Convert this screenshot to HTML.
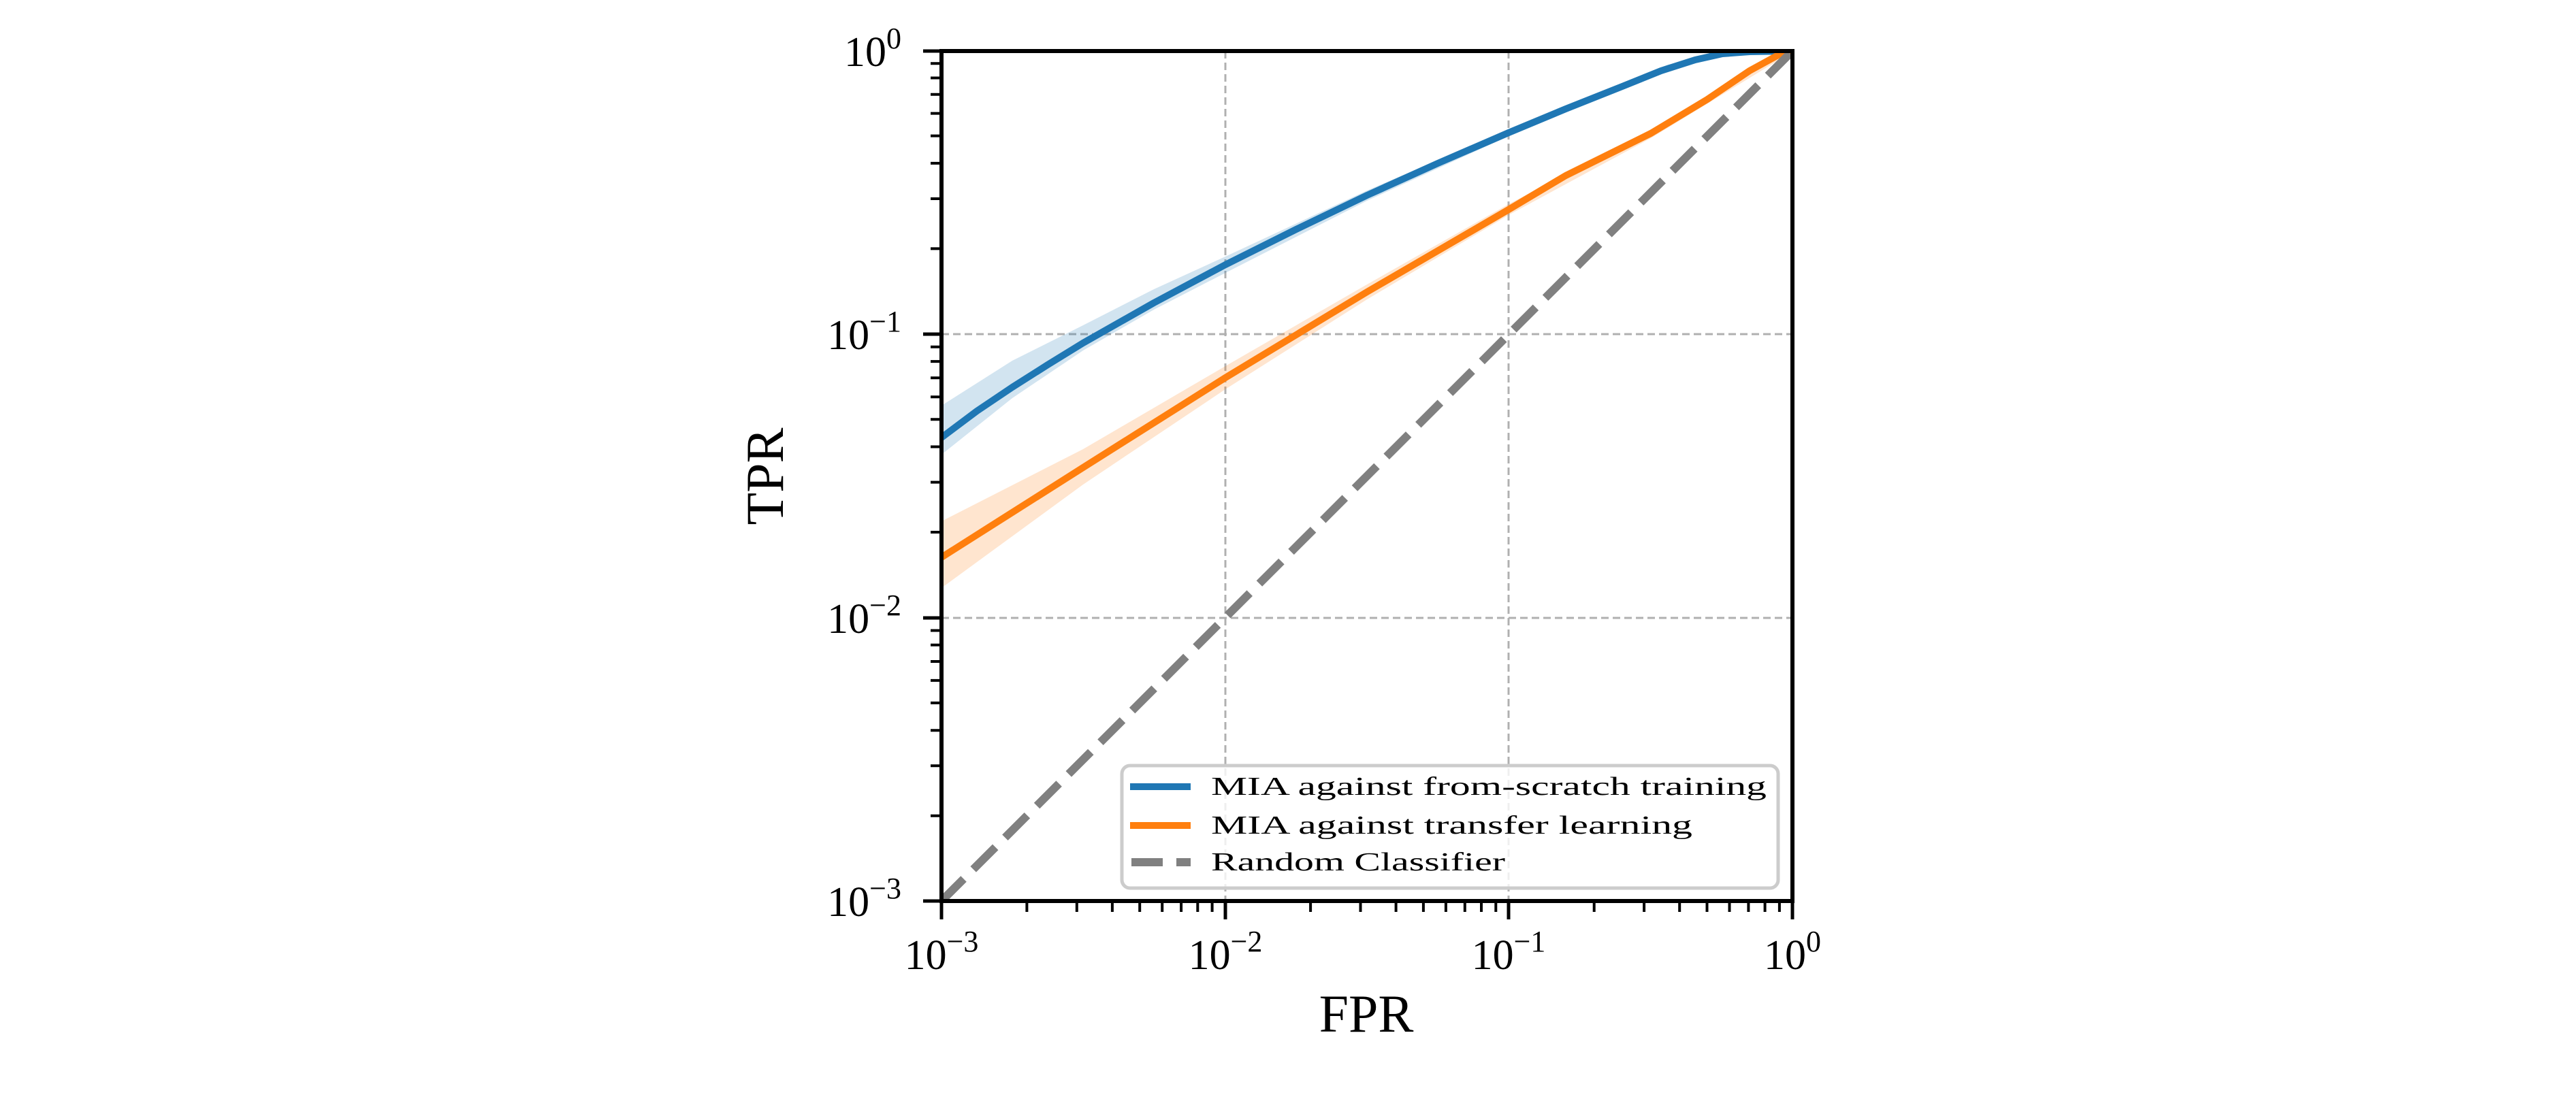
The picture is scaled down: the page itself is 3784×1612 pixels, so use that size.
<!DOCTYPE html>
<html><head><meta charset="utf-8"><style>html,body{margin:0;padding:0;background:#fff}svg{display:block}</style></head>
<body>
<svg width="3784" height="1612" viewBox="0 0 3784 1612" xmlns="http://www.w3.org/2000/svg" font-family="'Liberation Serif', serif">
<defs><clipPath id="ax"><rect x="1383" y="75" width="1250" height="1249"/></clipPath></defs>
<rect width="3784" height="1612" fill="#fff"/>
<g stroke="#b0b0b0" stroke-width="3" stroke-dasharray="11,6" fill="none">
<line x1="1800" y1="75" x2="1800" y2="1324"/><line x1="2216" y1="75" x2="2216" y2="1324"/>
<line x1="1383" y1="491" x2="2633" y2="491"/><line x1="1383" y1="908" x2="2633" y2="908"/>
</g>
<g clip-path="url(#ax)">
<polygon fill="#1f77b4" fill-opacity="0.2" points="1383,596 1487,530 1591,478 1695,425 1800,377 2008,280 2216,191 2300,157 2450,95 2550,75 2633,75 2633,76 2550,78 2450,100 2300,164 2216,200 2008,295 1800,401 1695,455 1591,515 1487,585 1383,668"/>
<polygon fill="#ff7f0e" fill-opacity="0.2" points="1383,766 1591,660 1800,538 2008,418 2216,300 2425,190 2633,75 2633,76 2425,203 2216,316 2008,440 1800,572 1591,712 1383,864"/>
<polyline fill="none" stroke="#1f77b4" stroke-width="10" stroke-linejoin="round" points="1383,643 1435,604 1487,569 1539,536 1591,504 1695,445 1800,389 1904,337 2008,287 2112,240 2216,195 2300,160 2383,127 2440,104 2490,88 2530,79 2570,76 2633,75"/>
<polyline fill="none" stroke="#ff7f0e" stroke-width="10" stroke-linejoin="round" points="1383,819 1591,687 1800,555 2008,429 2216,308 2300,258 2425,196 2508,146 2570,104 2612,81 2633,75"/>
<line x1="1383" y1="1324" x2="2633" y2="75" stroke="#808080" stroke-width="12" stroke-dasharray="46,20"/>
</g>
<rect x="1383" y="75" width="1250" height="1249" fill="none" stroke="#000" stroke-width="6"/>
<g stroke="#000" stroke-width="5">
<path d="M1383,1324v27M1800,1324v27M2216,1324v27M2633,1324v27M1383,1324h-27M1383,908h-27M1383,491h-27M1383,75h-27"/>
</g>
<g stroke="#000" stroke-width="4">
<path d="M1508.4,1324v16M1581.8,1324v16M1633.9,1324v16M1674.2,1324v16M1707.2,1324v16M1735.1,1324v16M1759.3,1324v16M1780.6,1324v16
M1925.1,1324v16M1998.5,1324v16M2050.6,1324v16M2090.9,1324v16M2123.9,1324v16M2151.8,1324v16M2176,1324v16M2197.3,1324v16
M2341.7,1324v16M2415.1,1324v16M2467.2,1324v16M2507.5,1324v16M2540.5,1324v16M2568.4,1324v16M2592.6,1324v16M2613.9,1324v16
M1383,1198.7h-16M1383,1125.3h-16M1383,1073.2h-16M1383,1032.9h-16M1383,999.9h-16M1383,972h-16M1383,947.8h-16M1383,926.5h-16
M1383,782h-16M1383,708.6h-16M1383,656.5h-16M1383,616.2h-16M1383,583.2h-16M1383,555.3h-16M1383,531.1h-16M1383,509.8h-16
M1383,365.4h-16M1383,292h-16M1383,239.9h-16M1383,199.6h-16M1383,166.6h-16M1383,138.7h-16M1383,114.5h-16M1383,93.2h-16"/>
</g>
<g font-size="62" fill="#000">
<text x="1383" y="1424" text-anchor="middle">10<tspan font-size="44" dy="-26">−3</tspan></text>
<text x="1800" y="1424" text-anchor="middle">10<tspan font-size="44" dy="-26">−2</tspan></text>
<text x="2216" y="1424" text-anchor="middle">10<tspan font-size="44" dy="-26">−1</tspan></text>
<text x="2633" y="1424" text-anchor="middle">10<tspan font-size="44" dy="-26">0</tspan></text>
<text x="1324" y="1346" text-anchor="end">10<tspan font-size="44" dy="-26">−3</tspan></text>
<text x="1324" y="930" text-anchor="end">10<tspan font-size="44" dy="-26">−2</tspan></text>
<text x="1324" y="513" text-anchor="end">10<tspan font-size="44" dy="-26">−1</tspan></text>
<text x="1324" y="97" text-anchor="end">10<tspan font-size="44" dy="-26">0</tspan></text>
</g>
<text x="2007" y="1516" font-size="78" text-anchor="middle">FPR</text>
<text transform="translate(1150,700) rotate(-90)" font-size="78" text-anchor="middle">TPR</text>
<rect x="1648" y="1125" width="964" height="180" rx="12" fill="#fff" fill-opacity="0.8" stroke="#cccccc" stroke-width="5"/>
<line x1="1660" y1="1156" x2="1749" y2="1156" stroke="#1f77b4" stroke-width="10"/>
<line x1="1660" y1="1213" x2="1749" y2="1213" stroke="#ff7f0e" stroke-width="10"/>
<line x1="1662" y1="1267" x2="1749" y2="1267" stroke="#808080" stroke-width="12" stroke-dasharray="46,20"/>
<g font-size="38" fill="#000">
<text x="1779" y="1168" textLength="816" lengthAdjust="spacingAndGlyphs">MIA against from-scratch training</text>
<text x="1779" y="1225" textLength="707" lengthAdjust="spacingAndGlyphs">MIA against transfer learning</text>
<text x="1779" y="1279" textLength="432" lengthAdjust="spacingAndGlyphs">Random Classifier</text>
</g>
</svg>
</body></html>
